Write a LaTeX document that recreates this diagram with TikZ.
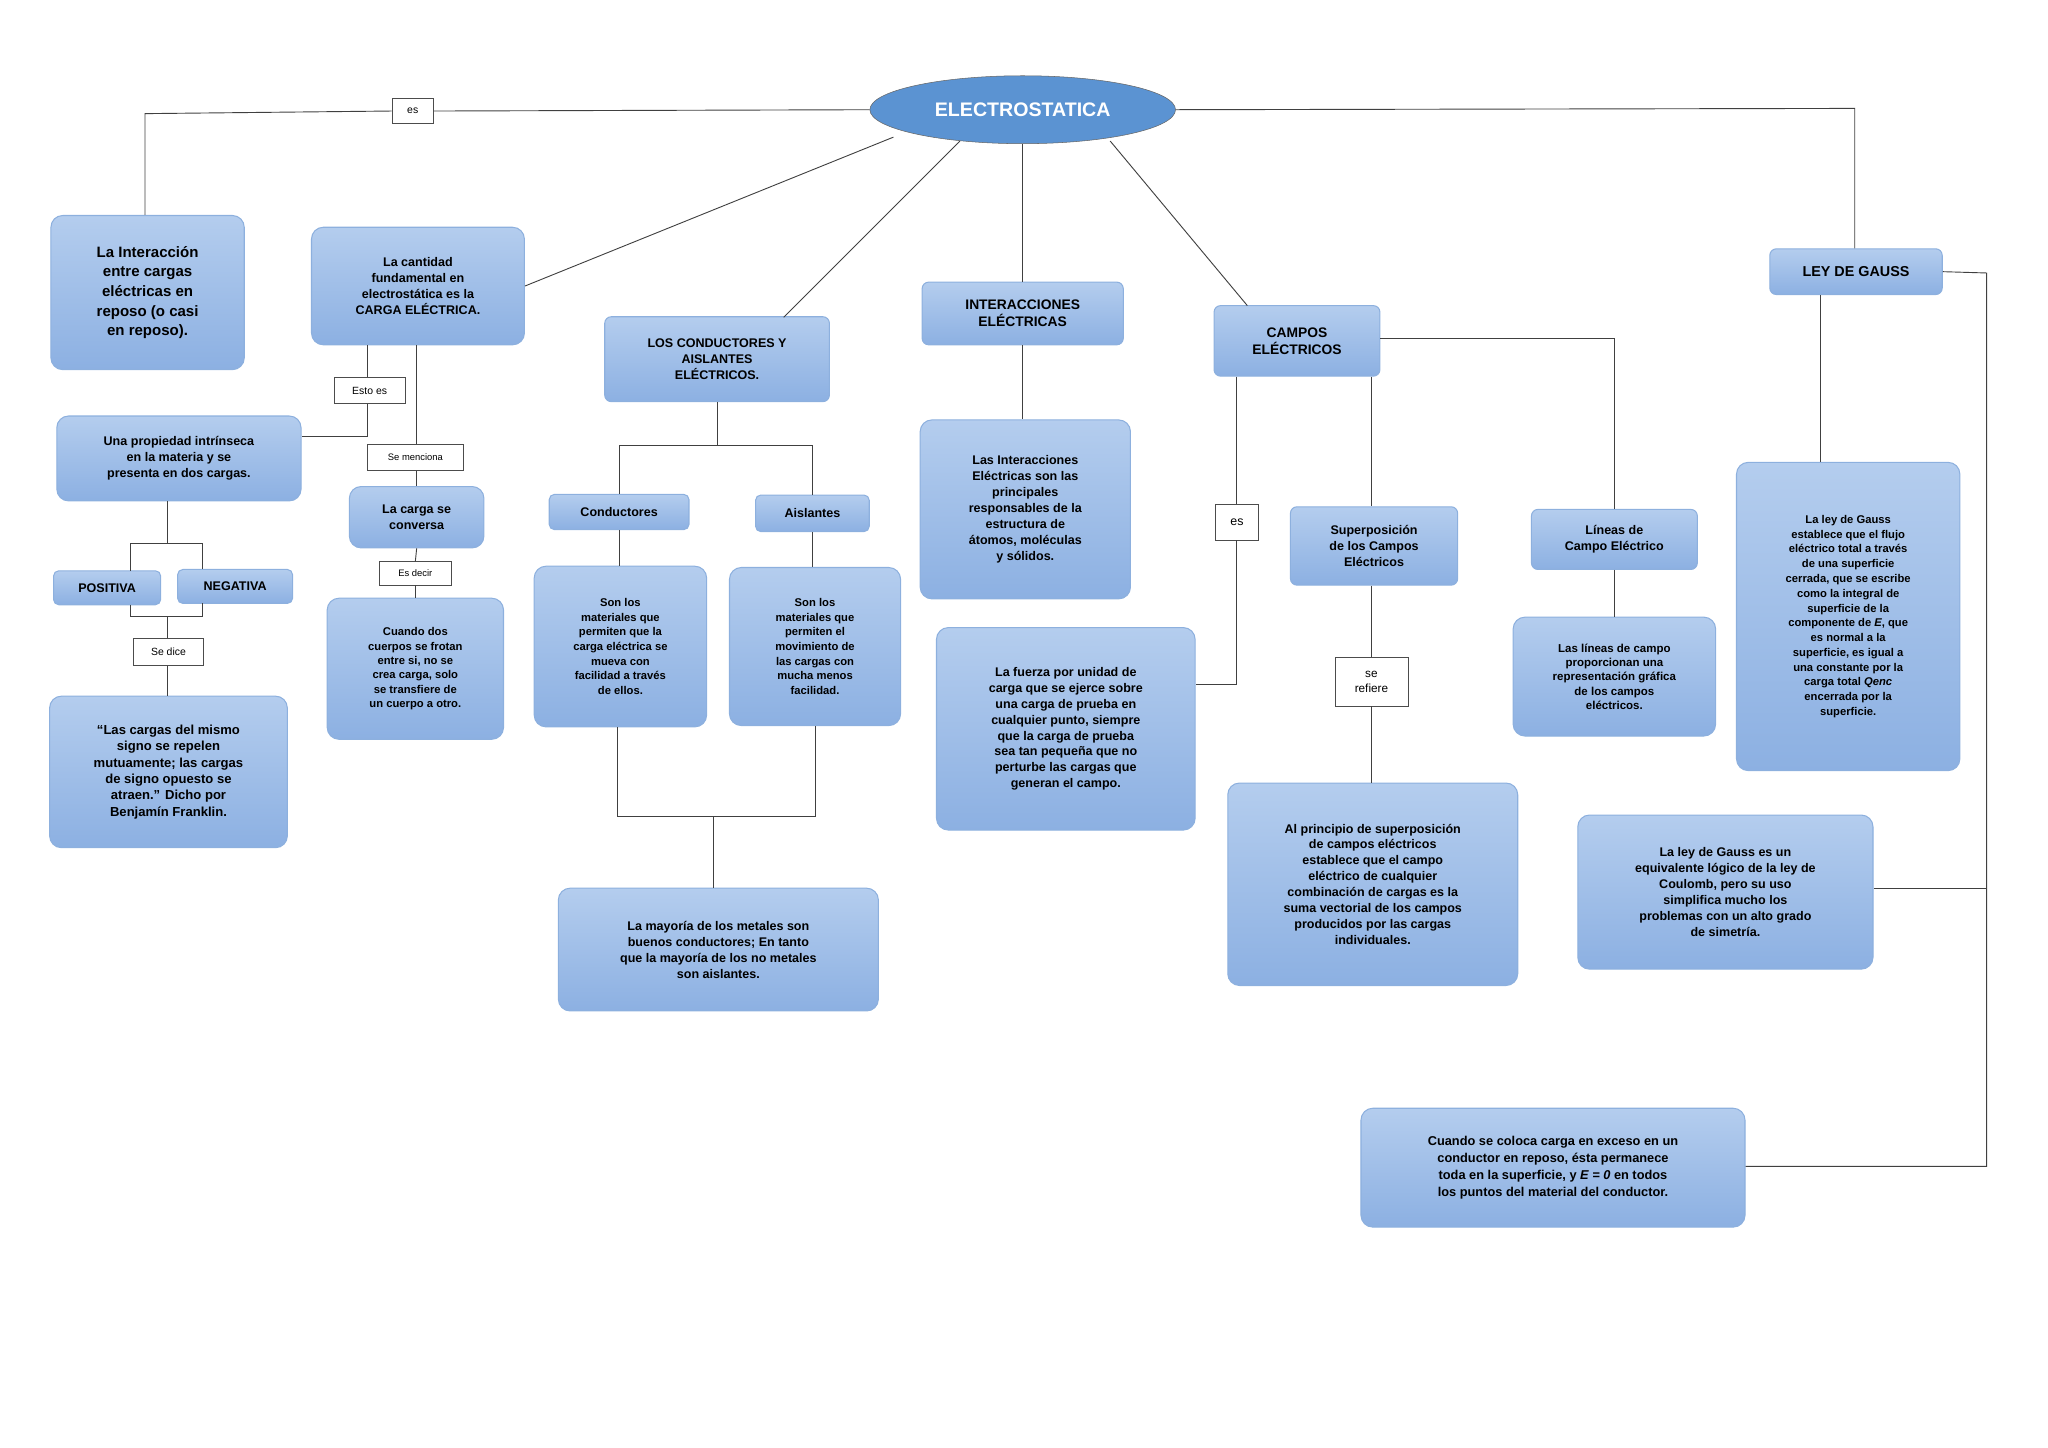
\documentclass[tikz,border=0pt]{standalone}
\usepackage{fontspec}
\setmainfont{Liberation Sans}
\usetikzlibrary{shapes.geometric}
\definecolor{bt}{HTML}{B4CDEE}
\definecolor{bb}{HTML}{8CB0E2}
\definecolor{bd}{HTML}{8DB0DE}
\definecolor{tb}{HTML}{5B93D2}
\begin{document}
\begin{tikzpicture}[x=1pt,y=-1pt,
 box/.style={draw=bd,line width=0.8pt,rounded corners=9pt,top color=bt,bottom color=bb,align=center,font=\bfseries\fontsize{9.6}{12.2}\selectfont,inner sep=2pt},
 lab/.style={draw=black!70,fill=white,line width=0.5pt,font=\fontsize{8}{10}\selectfont,align=center,inner sep=2pt},
 ln/.style={draw=black!75,line width=0.7pt}]
\useasboundingbox (0,0) rectangle (1568,1108);
\node[ellipse,draw=black!60,fill=tb,minimum width=234pt,minimum height=52pt,text=white,font=\bfseries\fontsize{15}{18}\selectfont] (t) at (783,84) {ELECTROSTATICA};
\node[box,minimum width=148pt,minimum height=118pt,font=\bfseries\fontsize{11.5}{15}\selectfont] (a) at (113,224) {La Interacción\\entre cargas\\eléctricas en\\reposo (o casi\\en reposo).};
\node[box,minimum width=163pt,minimum height=90pt] (b) at (320,219) {La cantidad\\fundamental en\\electrostática es la\\CARGA ELÉCTRICA.};
\node[box,minimum width=187pt,minimum height=65pt] (c) at (137,351) {Una propiedad intrínseca\\en la materia y se\\presenta en dos cargas.};
\node[box,minimum width=82pt,minimum height=26pt,rounded corners=4pt] (pos) at (82,450) {POSITIVA};
\node[box,minimum width=88pt,minimum height=26pt,rounded corners=4pt] (neg) at (180,449) {NEGATIVA};
\node[box,minimum width=182pt,minimum height=116pt,font=\bfseries\fontsize{10}{12.5}\selectfont] (q) at (129,591) {“Las cargas del mismo\\signo se repelen\\mutuamente; las cargas\\de signo opuesto se\\atraen.” Dicho por\\Benjamín Franklin.};
\node[box,minimum width=103pt,minimum height=47pt] (cv) at (319,396) {La carga se\\conversa};
\node[box,minimum width=135pt,minimum height=108pt,font=\bfseries\fontsize{8.6}{11}\selectfont] (cd) at (318,512) {Cuando dos\\cuerpos se frotan\\entre si, no se\\crea carga, solo\\se transfiere de\\un cuerpo a otro.};
\node[box,minimum width=172pt,minimum height=65pt,rounded corners=5pt] (lc) at (549,275) {LOS CONDUCTORES Y\\AISLANTES\\ELÉCTRICOS.};
\node[box,minimum width=107pt,minimum height=27pt,rounded corners=4pt] (co) at (474,392) {Conductores};
\node[box,minimum width=87pt,minimum height=28pt,rounded corners=4pt] (ai) at (622,393) {Aislantes};
\node[box,minimum width=132pt,minimum height=123pt,font=\bfseries\fontsize{8.6}{11.2}\selectfont] (sc) at (475,495) {Son los\\materiales que\\permiten que la\\carga eléctrica se\\mueva con\\facilidad a través\\de ellos.};
\node[box,minimum width=131pt,minimum height=121pt,font=\bfseries\fontsize{8.6}{11.2}\selectfont] (sa) at (624,495) {Son los\\materiales que\\permiten el\\movimiento de\\las cargas con\\mucha menos\\facilidad.};
\node[box,minimum width=245pt,minimum height=94pt] (my) at (550,727) {La mayoría de los metales son\\buenos conductores; En tanto\\que la mayoría de los no metales\\son aislantes.};
\node[box,minimum width=154pt,minimum height=48pt,rounded corners=5pt,font=\bfseries\fontsize{10.6}{13}\selectfont] (ie) at (783,240) {INTERACCIONES\\ELÉCTRICAS};
\node[box,minimum width=161pt,minimum height=137pt] (li) at (785,390) {Las Interacciones\\Eléctricas son las\\principales\\responsables de la\\estructura de\\átomos, moléculas\\y sólidos.};
\node[box,minimum width=198pt,minimum height=155pt] (fz) at (816,558) {La fuerza por unidad de\\carga que se ejerce sobre\\una carga de prueba en\\cualquier punto, siempre\\que la carga de prueba\\sea tan pequeña que no\\perturbe las cargas que\\generan el campo.};
\node[box,minimum width=127pt,minimum height=54pt,rounded corners=5pt,font=\bfseries\fontsize{10.6}{13}\selectfont] (ca) at (993,261) {CAMPOS\\ELÉCTRICOS};
\node[lab,minimum width=33pt,minimum height=27pt,font=\fontsize{9.5}{11}\selectfont] (es2) at (947,400) {es};
\node[box,minimum width=128pt,minimum height=60pt,rounded corners=5pt] (su) at (1052,418) {Superposición\\de los Campos\\Eléctricos};
\node[lab,minimum width=56pt,minimum height=37pt,font=\fontsize{9}{11}\selectfont] (sr) at (1050,522) {se\\refiere};
\node[box,minimum width=222pt,minimum height=155pt] (ap) at (1051,677) {Al principio de superposición\\de campos eléctricos\\establece que el campo\\eléctrico de cualquier\\combinación de cargas es la\\suma vectorial de los campos\\producidos por las cargas\\individuales.};
\node[box,minimum width=127pt,minimum height=46pt,rounded corners=5pt] (lcp) at (1236,413) {Líneas de\\Campo Eléctrico};
\node[box,minimum width=155pt,minimum height=91pt,font=\bfseries\fontsize{8.8}{11}\selectfont] (ll) at (1236,518) {Las líneas de campo\\proporcionan una\\representación gráfica\\de los campos\\eléctricos.};
\node[box,minimum width=132pt,minimum height=35pt,rounded corners=5pt,font=\bfseries\fontsize{11}{13}\selectfont] (lg) at (1421,208) {LEY DE GAUSS};
\node[box,minimum width=171pt,minimum height=236pt,font=\bfseries\fontsize{8.6}{11.3}\selectfont] (g1) at (1415,472) {La ley de Gauss\\establece que el flujo\\eléctrico total a través\\de una superficie\\cerrada, que se escribe\\como la integral de\\superficie de la\\componente de \textit{E}, que\\es normal a la\\superficie, es igual a\\una constante por la\\carga total \textit{Qenc}\\encerrada por la\\superficie.};
\node[box,minimum width=226pt,minimum height=118pt] (g2) at (1321,683) {La ley de Gauss es un\\equivalente lógico de la ley de\\Coulomb, pero su uso\\simplifica mucho los\\problemas con un alto grado\\de simetría.};
\node[box,minimum width=294pt,minimum height=91pt,font=\bfseries\fontsize{9.8}{13}\selectfont] (g3) at (1189,894) {Cuando se coloca carga en exceso en un\\conductor en reposo, ésta permanece\\toda en la superficie, y \textit{E = 0} en todos\\los puntos del material del conductor.};
% labels
\node[lab,minimum width=32pt,minimum height=19pt] (es1) at (316,85) {es};
\node[lab,minimum width=54pt,minimum height=20pt] (ee) at (283,299) {Esto es};
\node[lab,minimum width=73pt,minimum height=20pt,font=\fontsize{7.2}{9}\selectfont] (sm) at (318,350) {Se menciona};
\node[lab,minimum width=55pt,minimum height=18pt,font=\fontsize{7.2}{9}\selectfont] (ed) at (318,439) {Es decir};
\node[lab,minimum width=54pt,minimum height=21pt] (sd) at (129,499) {Se dice};
% connectors
\draw[ln] (t.west) -- (es1.east);
\draw[ln] (es1.west) -- (111,87) -- (a.north-|111,0);
\draw[ln] (t.south west) ++(18,0) coordinate (x1);
\draw[ln] (684,105) -- (b.east);
\draw[ln] (735,108) -- (600,243);
\draw[ln] (t.south) -- (ie.north);
\draw[ln] (850,108) -- (955,234);
\draw[ln] (t.east) -- (1420,83) -- (lg.north-|1420,0);
\draw[ln] (281,264) -- (ee.north-|281,0);
\draw[ln] (ee.south-|281,0) -- (281,334) -- (c.east|-0,334);
\draw[ln] (b.south-|319,0) -- (sm.north-|319,0);
\draw[ln] (sm.south-|319,0) -- (cv.north);
\draw[ln] (cv.south) -- (ed.north);
\draw[ln] (ed.south) -- (cd.north);
\draw[ln] (c.south-|128,0) -- (128,416);
\draw[ln] (100,437) -- (100,416) -- (155,416) -- (155,436);
\draw[ln] (100,463) -- (100,472) -- (155,472) -- (155,462);
\draw[ln] (128,472) -- (sd.north-|128,0);
\draw[ln] (sd.south-|128,0) -- (q.north-|128,0);
\draw[ln] (lc.south) -- (549,341);
\draw[ln] (co.north) -- (474,341) -- (622,341) -- (ai.north);
\draw[ln] (co.south) -- (sc.north-|474,0);
\draw[ln] (ai.south) -- (sa.north-|622,0);
\draw[ln] (sc.south-|473,0) -- (473,625) -- (624,625) -- (sa.south);
\draw[ln] (546,625) -- (my.north-|546,0);
\draw[ln] (ie.south) -- (li.north-|783,0);
\draw[ln] (ca.south-|947,0) -- (es2.north);
\draw[ln] (es2.south) -- (947,524) -- (fz.east|-0,524);
\draw[ln] (ca.south-|1050,0) -- (su.north-|1050,0);
\draw[ln] (su.south-|1050,0) -- (sr.north);
\draw[ln] (sr.south) -- (ap.north-|1050,0);
\draw[ln] (ca.east|-0,259) -- (1236,259) -- (lcp.north);
\draw[ln] (lcp.south) -- (ll.north);
\draw[ln] (lg.south-|1394,0) -- (g1.north-|1394,0);
\draw[ln] (lg.east) -- (1521,209) -- (1521,893) -- (g3.east|-0,893);
\draw[ln] (g2.east|-0,680) -- (1521,680);
\end{tikzpicture}
\end{document}
